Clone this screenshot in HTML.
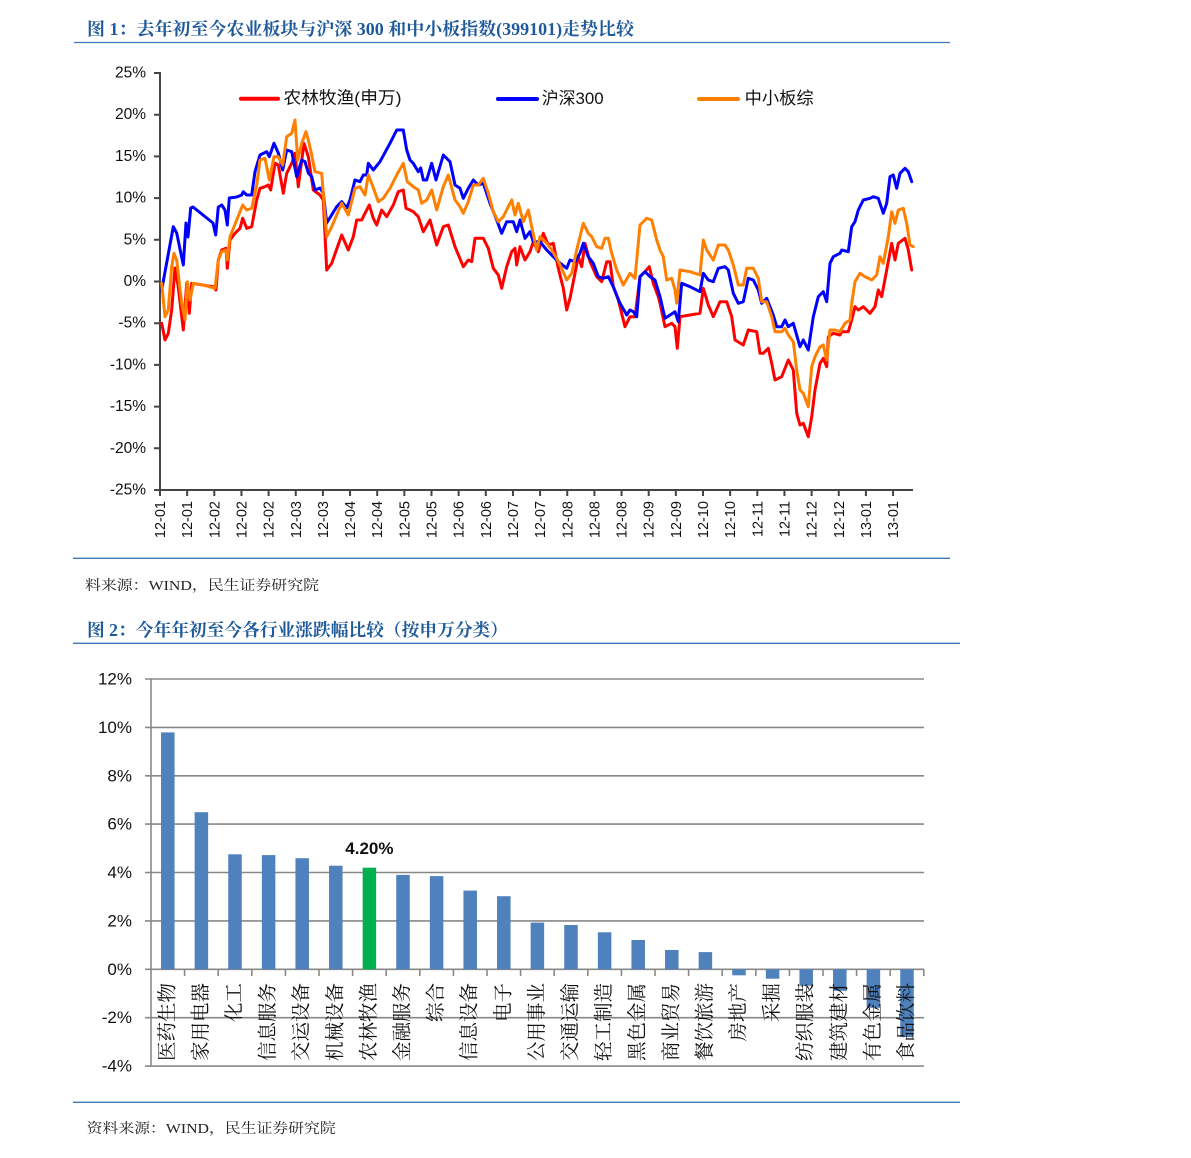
<!DOCTYPE html>
<html><head><meta charset="utf-8"><style>
html,body{margin:0;padding:0;background:#fff;}
svg{display:block;}
.ttl{font-family:"Liberation Serif","Noto Serif CJK SC",serif;font-weight:bold;font-size:17.5px;fill:#1f5a9a;}
.src{font-family:"Liberation Serif","Noto Serif CJK SC",serif;font-size:14px;fill:#222;}
.ax1{font-family:"Liberation Sans","Noto Sans CJK SC",sans-serif;font-size:15.5px;fill:#111;}
.xl1{font-family:"Liberation Sans",sans-serif;font-size:14.5px;fill:#111;}
.leg{font-family:"Liberation Sans","Noto Sans CJK SC",sans-serif;font-size:17px;fill:#111;}
.ax2{font-family:"Liberation Sans",sans-serif;font-size:17px;fill:#111;}
.cat{font-family:"Liberation Serif","Noto Serif CJK SC",serif;font-size:19.5px;fill:#111;}
</style></head><body>
<svg width="1191" height="1158" viewBox="0 0 1191 1158" xmlns="http://www.w3.org/2000/svg">
<rect width="1191" height="1158" fill="#fff"/>
<!-- Title 1 -->
<text class="ttl" x="87" y="35" textLength="547" lengthAdjust="spacingAndGlyphs">图 1：去年初至今农业板块与沪深 300 和中小板指数(399101)走势比较</text>
<line x1="74" y1="42.5" x2="950" y2="42.5" stroke="#3a78b8" stroke-width="1.3"/>

<!-- Chart 1 axes -->
<g stroke="#444" stroke-width="2" fill="none">
<line x1="160" y1="72" x2="160" y2="491"/>
<line x1="159" y1="490" x2="913" y2="490"/>
<path d="M154 73H160M154 114.7H160M154 156.4H160M154 198.1H160M154 239.8H160M154 281.5H160M154 323.2H160M154 364.9H160M154 406.6H160M154 448.3H160M154 490H160"/>
<path d="M160 490V496M187.15 490V496M214.3 490V496M241.45 490V496M268.6 490V496M295.75 490V496M322.9 490V496M350.05 490V496M377.2 490V496M404.35 490V496M431.5 490V496M458.65 490V496M485.8 490V496M512.95 490V496M540.1 490V496M567.25 490V496M594.4 490V496M621.55 490V496M648.7 490V496M675.85 490V496M703 490V496M730.15 490V496M757.3 490V496M784.45 490V496M811.6 490V496M838.75 490V496M865.9 490V496M893.05 490V496"/>
</g>
<g class="ax1" text-anchor="end" dominant-baseline="central">
<text x="146" y="73">25%</text><text x="146" y="114.7">20%</text><text x="146" y="156.4">15%</text><text x="146" y="198.1">10%</text><text x="146" y="239.8">5%</text><text x="146" y="281.5">0%</text><text x="146" y="323.2">-5%</text><text x="146" y="364.9">-10%</text><text x="146" y="406.6">-15%</text><text x="146" y="448.3">-20%</text><text x="146" y="490">-25%</text>
</g>
<g class="xl1" text-anchor="end" dominant-baseline="central">
<text transform="translate(161,501) rotate(-90)">12-01</text>
<text transform="translate(188.15,501) rotate(-90)">12-01</text>
<text transform="translate(215.3,501) rotate(-90)">12-02</text>
<text transform="translate(242.45,501) rotate(-90)">12-02</text>
<text transform="translate(269.6,501) rotate(-90)">12-02</text>
<text transform="translate(296.75,501) rotate(-90)">12-03</text>
<text transform="translate(323.9,501) rotate(-90)">12-03</text>
<text transform="translate(351.05,501) rotate(-90)">12-04</text>
<text transform="translate(378.2,501) rotate(-90)">12-04</text>
<text transform="translate(405.35,501) rotate(-90)">12-05</text>
<text transform="translate(432.5,501) rotate(-90)">12-05</text>
<text transform="translate(459.65,501) rotate(-90)">12-06</text>
<text transform="translate(486.8,501) rotate(-90)">12-06</text>
<text transform="translate(513.95,501) rotate(-90)">12-07</text>
<text transform="translate(541.1,501) rotate(-90)">12-07</text>
<text transform="translate(568.25,501) rotate(-90)">12-08</text>
<text transform="translate(595.4,501) rotate(-90)">12-08</text>
<text transform="translate(622.55,501) rotate(-90)">12-08</text>
<text transform="translate(649.7,501) rotate(-90)">12-09</text>
<text transform="translate(676.85,501) rotate(-90)">12-09</text>
<text transform="translate(704,501) rotate(-90)">12-10</text>
<text transform="translate(731.15,501) rotate(-90)">12-10</text>
<text transform="translate(758.3,501) rotate(-90)">12-11</text>
<text transform="translate(785.45,501) rotate(-90)">12-11</text>
<text transform="translate(812.6,501) rotate(-90)">12-12</text>
<text transform="translate(839.75,501) rotate(-90)">12-12</text>
<text transform="translate(866.9,501) rotate(-90)">13-01</text>
<text transform="translate(894.05,501) rotate(-90)">13-01</text>
</g>

<!-- Series -->
<g fill="none" stroke-width="3" stroke-linejoin="round" stroke-linecap="round">
<polyline stroke="#ff0000" points="161.7,323.3 165,340 168.3,333.3 171.7,310 175,268 178,285 183.3,330 186.7,283.3 189.3,313.3 191.7,283.3 213.3,286.7 216,290 218.3,260 221.7,250 226,248.3 227.3,268.3 230,240 235,233.3 240,228.3 242.7,218.3 246.7,228.3 251.7,226.7 256.7,200 260,188.3 265,186.7 268.3,185 270.7,190 275,163.3 278.3,165 283.3,193.3 286.7,173.3 291.7,163.3 295,153.3 298.3,186.7 304,143.3 308.3,156.7 313.3,190 320,195 323.3,200 326.7,270 331.7,263.3 341.7,235 348.3,250 353.3,236.7 356.7,220 361.7,220 365,213.3 369.3,205 373.3,218.3 376.7,225 381.7,210 386.7,216.7 393.3,205 398.3,191.7 403.3,190 406,208.3 410,210 413.3,211.7 418.3,216.7 423.3,231.7 430,220 436.7,245 443.3,226.7 448.3,225 455,246.7 463.3,266.7 468.3,260 471.7,261.7 475,238.3 483.3,238.3 488.3,248.3 493.3,268.3 498.3,275 501.7,288.3 506.7,266.7 511.7,251.7 515,248.3 516.7,265 520,246.7 525,260 530,251.7 533.3,241.7 538.3,251.7 543.3,233.3 548.3,245 553.3,243.3 558.3,268.3 563.3,288.3 566.7,310 570,298.3 575,273.3 578.3,256.7 581.7,266.7 585,243.3 590,261.7 596.7,276.7 601.7,281.7 606.7,261.7 610,261.7 613.3,286.7 618.3,300 625,326.7 630,316.7 635,316.7 640,276.7 645,271.7 649.3,266.7 653.3,283.3 658.3,296.7 660,303.3 665,326.7 671.7,323.3 675,326.7 677.3,348.3 680,316.7 690,315 700,313.3 703.3,288.3 708.3,305 713.3,316.7 720,301.7 726.7,301.7 731.7,316.7 735,340 743.3,345 748.3,330 756.7,331.7 760,353.3 763.3,353.3 768.3,348.3 771.7,363.3 775,380 781.7,376.7 788.3,360 793.3,370 796.7,413.3 800,425 803.3,423.3 808.3,436.7 811.7,416.7 815,390 820,363.3 823.3,358.3 826.7,366.7 828.3,336.7 833.3,333.3 840,335 841.7,331.7 848.3,331.7 851.7,320 855,306.7 858.3,310 863.3,306.7 870,313.3 875,306.7 878.3,290 881.7,296.7 886.7,270 891.7,243.3 895,260 898.3,243.3 905,238.3 908.3,250 911.7,270"/>
<polyline stroke="#0000ff" points="161.7,290 173.3,226.7 176.7,233 183.3,265 186,223 188,237 190.7,208 193,207 213,223 215.7,235 218.3,207 221.7,205 225,210 227.3,225 229.3,198 236.7,197 241.7,195 243.3,191.7 246.7,195 251.7,195 255,171.7 260,155 266.7,151.7 269.3,156.7 274,143.3 278.3,153 282.7,170 286.7,150 291.7,151.7 296.7,176.7 301.7,160 305,161.7 308.3,173 311.7,176.7 315,190 320,188 323.3,193 326.7,223 336.7,206.7 341.7,201.7 346.7,208 350,200 355,180 360,181.7 363.3,175 366.7,175 368.3,163.3 373.3,170 380,161.7 390,143.3 396.7,130 403.3,130 406.7,150 410,160 413.3,163.3 418.3,171.7 420.7,168 423.3,180 426.7,180 431.7,163.3 436,180 443.3,155 450,161.7 455,185 460,188.3 463.3,198.3 468.3,188.3 473.3,180 478.3,185 483.3,183.3 490,203.3 496.7,220 501.7,233.3 506.7,221.7 513.3,221.7 516.7,231.7 520,220 525,238.3 530,231.7 533.3,241.7 540,241.7 546.7,250 553.3,256.7 558.3,261.7 566.7,268.3 570,260 575,261.7 580,253.3 583.3,243.3 588.3,256.7 593.3,263.3 598.3,276.7 603.3,278.3 608.3,276.7 613.3,286.7 620,303.3 626.7,315 630,310 633.3,311.7 636.7,316.7 640,276.7 645,271.7 650,276.7 655,280 660,296.7 665,318.3 670,315 675,311.7 678.3,321.7 681.7,283.3 690,286.7 700,291.7 703.3,273.3 708.3,280 713.3,281.7 718.3,268.3 725,266.7 728.3,270 733.3,293.3 738.3,303.3 743.3,301.7 748.3,278.3 753.3,280 758.3,290 761.7,303.3 766.7,298.3 773.3,315 776.7,326.7 781.7,326.7 785,320 788.3,326.7 793.3,323.3 800,346.7 803.3,340 808.3,350 813.3,316.7 818.3,296.7 823.3,291.7 826.7,301.7 830,263.3 833.3,256.7 840,253.3 841.7,250 848.3,251.7 851.7,226.7 855,221.7 858.3,210 863.3,200 870,198.3 873.3,196.7 878.3,198.3 883.3,213.3 886.7,203.3 890,176.7 893.3,175 896.7,188.3 900,173.3 905,168.3 908.3,171.7 911.7,181.7"/>
<polyline stroke="#ff8000" points="161.7,283.3 165,316.7 168.3,310 171.7,266.7 174,253.3 176.7,260 181.7,303.3 185,320 187.3,281.7 190,300 193.3,283.3 203.3,285 215,288.3 218.3,260 221.7,251.7 226,250 227.3,260 230,236.7 236.7,220 242.7,205 246.7,210 251.7,208.3 256.7,185 260,160 265,158.3 269.3,180 274,156.7 278.3,156.7 282.7,165 286.7,136.7 291.7,133.3 295,120 297.7,160 301.7,143.3 306,131.7 308.3,140 311.7,155 315,171.7 321.7,173.3 326.7,236.7 331.7,226.7 341.7,203.3 348.3,215 355,188.3 360,186.7 365,195 368.3,175 371.7,183.3 378.3,201.7 383.3,198.3 390,188.3 396.7,175 403.3,163.3 407.3,181.7 413.3,186.7 418.3,190 421.7,203.3 426.7,200 431.7,190 436.7,210 443.3,186.7 448.3,175 455,200 460,206.7 463.3,213.3 468.3,201.7 473.3,185 478.3,185 483.3,178.3 488.3,193.3 493.3,211.7 498.3,221.7 503.3,216.7 508.3,206.7 511.7,200 515,215 518.3,203.3 523.3,221.7 528.3,210 531.7,226.7 536.7,250 540,236.7 546.7,243.3 551.7,250 556.7,258.3 561.7,268.3 566.7,280 571.7,273.3 576.7,250 583.3,223.3 588.3,233.3 591.7,236.7 596.7,246.7 601.7,248.3 605,238.3 608.3,238.3 611.7,253.3 616.7,270 623.3,285 630,273.3 635,278.3 640,225 646.7,218.3 651.7,220 656.7,240 660,250 663.3,256.7 666.7,280 671.7,278.3 675,290 676.7,303.3 680,270 690,271.7 700,275 703.3,240 706.7,250 713.3,260 718.3,245 725,245 728.3,250 733.3,265 738.3,285 743.3,285 746.7,268.3 753.3,268.3 758.3,278.3 761.7,301.7 766.7,301.7 771.7,316.7 775,331.7 781.7,331.7 785,328.3 788.3,335 793.3,341.7 796.7,370 800,390 803.3,393.3 808.3,406.7 811.7,366.7 815,356.7 820,346.7 823.3,345 826.7,360 830,330 835,330 840,331.7 845,323.3 850,320 851.7,303.3 855,281.7 860,273.3 865,276.7 871.7,280 876.7,275 880,256.7 883.3,263.3 888.3,236.7 891.7,211.7 895,223.3 898.3,210 903.3,208.3 906.7,223.3 910,245 913.3,246.7"/>
</g>

<!-- Legend -->
<g stroke-width="4" stroke-linecap="round">
<line x1="241" y1="98.7" x2="278" y2="98.7" stroke="#ff0000"/>
<line x1="498" y1="99" x2="537" y2="99" stroke="#0000ff"/>
<line x1="699" y1="99" x2="738" y2="99" stroke="#ff8000"/>
</g>
<g class="leg" dominant-baseline="central">
<text x="283.5" y="98" textLength="118" lengthAdjust="spacingAndGlyphs">农林牧渔(申万)</text>
<text x="541.7" y="98.5" textLength="62" lengthAdjust="spacingAndGlyphs">沪深300</text>
<text x="744.7" y="98.5" textLength="69" lengthAdjust="spacingAndGlyphs">中小板综</text>
</g>

<line x1="73" y1="558.3" x2="950" y2="558.3" stroke="#3a78b8" stroke-width="1.3"/>
<text class="src" x="85" y="590" textLength="234" lengthAdjust="spacingAndGlyphs">料来源：WIND，民生证券研究院</text>

<!-- Title 2 -->
<text class="ttl" x="87" y="636" textLength="421" lengthAdjust="spacingAndGlyphs">图 2：今年年初至今各行业涨跌幅比较（按申万分类）</text>
<line x1="73" y1="643.3" x2="960" y2="643.3" stroke="#3a78b8" stroke-width="1.3"/>

<!-- Chart 2 gridlines -->
<g stroke="#888" stroke-width="1.6">
<line x1="145" y1="679" x2="924" y2="679"/>
<line x1="145" y1="727.4" x2="924" y2="727.4"/>
<line x1="145" y1="775.8" x2="924" y2="775.8"/>
<line x1="145" y1="824.1" x2="924" y2="824.1"/>
<line x1="145" y1="872.5" x2="924" y2="872.5"/>
<line x1="145" y1="920.9" x2="924" y2="920.9"/>
<line x1="145" y1="969.3" x2="924" y2="969.3"/>
<line x1="145" y1="1017.7" x2="924" y2="1017.7"/>
<line x1="145" y1="1066.1" x2="924" y2="1066.1"/>
<line x1="151" y1="679" x2="151" y2="1066.1"/>
<path d="M184.6 969.3V976M218.2 969.3V976M251.8 969.3V976M285.4 969.3V976M319 969.3V976M352.6 969.3V976M386.2 969.3V976M419.8 969.3V976M453.4 969.3V976M487 969.3V976M520.6 969.3V976M554.2 969.3V976M587.8 969.3V976M621.4 969.3V976M655 969.3V976M688.6 969.3V976M722.2 969.3V976M755.8 969.3V976M789.4 969.3V976M823 969.3V976M856.6 969.3V976M890.2 969.3V976M923.8 969.3V976"/>
</g>

<!-- Bars -->
<g fill="#4f81bd">
<rect x="161.05" y="732.4" width="13.5" height="236.9"/>
<rect x="194.65" y="812.2" width="13.5" height="157.1"/>
<rect x="228.25" y="854.3" width="13.5" height="115"/>
<rect x="261.85" y="855.1" width="13.5" height="114.2"/>
<rect x="295.45" y="858.2" width="13.5" height="111.1"/>
<rect x="329.05" y="865.7" width="13.5" height="103.6"/>
<rect x="396.25" y="874.9" width="13.5" height="94.4"/>
<rect x="429.85" y="876.1" width="13.5" height="93.2"/>
<rect x="463.45" y="890.6" width="13.5" height="78.7"/>
<rect x="497.05" y="896.2" width="13.5" height="73.1"/>
<rect x="530.65" y="922.6" width="13.5" height="46.7"/>
<rect x="564.25" y="925" width="13.5" height="44.3"/>
<rect x="597.85" y="932.3" width="13.5" height="37"/>
<rect x="631.45" y="940" width="13.5" height="29.3"/>
<rect x="665.05" y="950" width="13.5" height="19.3"/>
<rect x="698.65" y="952.1" width="13.5" height="17.2"/>
<rect x="732.25" y="969.3" width="13.5" height="6"/>
<rect x="765.85" y="969.3" width="13.5" height="9.4"/>
<rect x="799.45" y="969.3" width="13.5" height="16.5"/>
<rect x="833.05" y="969.3" width="13.5" height="21.5"/>
<rect x="866.65" y="969.3" width="13.5" height="38.5"/>
<rect x="900.25" y="969.3" width="13.5" height="67.8"/>
</g>
<rect x="362.65" y="867.7" width="13.5" height="101.6" fill="#00b050"/>
<text x="369.4" y="854" text-anchor="middle" font-family="Liberation Sans, sans-serif" font-weight="bold" font-size="17" fill="#111">4.20%</text>

<g class="ax2" text-anchor="end" dominant-baseline="central">
<text x="132" y="679">12%</text><text x="132" y="727.4">10%</text><text x="132" y="775.8">8%</text><text x="132" y="824.1">6%</text><text x="132" y="872.5">4%</text><text x="132" y="920.9">2%</text><text x="132" y="969.3">0%</text><text x="132" y="1017.7">-2%</text><text x="132" y="1066.1">-4%</text>
</g>

<g class="cat" text-anchor="end" dominant-baseline="central">
<text transform="translate(167.8,983) rotate(-90)">医药生物</text>
<text transform="translate(201.4,983) rotate(-90)">家用电器</text>
<text transform="translate(235,983) rotate(-90)">化工</text>
<text transform="translate(268.6,983) rotate(-90)">信息服务</text>
<text transform="translate(302.2,983) rotate(-90)">交运设备</text>
<text transform="translate(335.8,983) rotate(-90)">机械设备</text>
<text transform="translate(369.4,983) rotate(-90)">农林牧渔</text>
<text transform="translate(403,983) rotate(-90)">金融服务</text>
<text transform="translate(436.6,983) rotate(-90)">综合</text>
<text transform="translate(470.2,983) rotate(-90)">信息设备</text>
<text transform="translate(503.8,983) rotate(-90)">电子</text>
<text transform="translate(537.4,983) rotate(-90)">公用事业</text>
<text transform="translate(571,983) rotate(-90)">交通运输</text>
<text transform="translate(604.6,983) rotate(-90)">轻工制造</text>
<text transform="translate(638.2,983) rotate(-90)">黑色金属</text>
<text transform="translate(671.8,983) rotate(-90)">商业贸易</text>
<text transform="translate(705.4,983) rotate(-90)">餐饮旅游</text>
<text transform="translate(739,983) rotate(-90)">房地产</text>
<text transform="translate(772.6,983) rotate(-90)">采掘</text>
<text transform="translate(806.2,983) rotate(-90)">纺织服装</text>
<text transform="translate(839.8,983) rotate(-90)">建筑建材</text>
<text transform="translate(873.4,983) rotate(-90)">有色金属</text>
<text transform="translate(907,983) rotate(-90)">食品饮料</text>
</g>

<line x1="73" y1="1102.3" x2="960" y2="1102.3" stroke="#3a78b8" stroke-width="1.3"/>
<text class="src" x="86.7" y="1133" textLength="249" lengthAdjust="spacingAndGlyphs">资料来源：WIND，民生证券研究院</text>
</svg>
</body></html>
